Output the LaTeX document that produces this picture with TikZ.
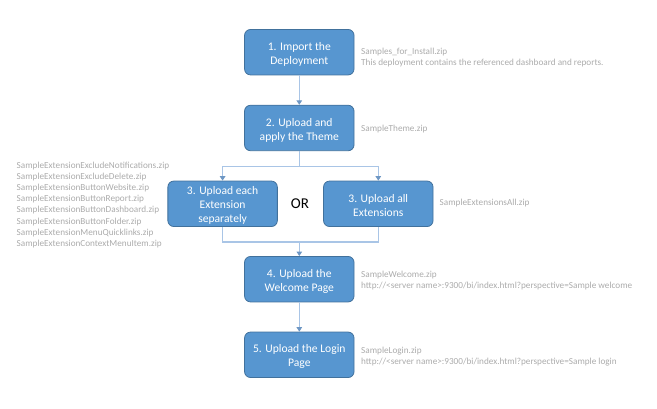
\documentclass[tikz,border=0pt]{standalone}
\usepackage{fontspec}
\setmainfont{Carlito}
\usetikzlibrary{arrows.meta}
\definecolor{boxfill}{HTML}{5796D0}
\definecolor{boxline}{HTML}{41719C}
\definecolor{conn}{HTML}{A9C5E6}
\definecolor{tip}{HTML}{6E97C4}
\definecolor{note}{HTML}{ABABAB}
\newcommand{\toplift}{\rule{0pt}{12pt}}
\tikzset{
  flowbox/.style={draw=boxline,line width=0.8pt,fill=boxfill,rounded corners=6pt,minimum width=109.5pt,minimum height=45.5pt,inner sep=0pt,align=center,text=white,font=\fontsize{11.6pt}{14.1pt}\selectfont},
  notetext/.style={anchor=west,inner sep=0pt,align=left,text=note,font=\fontsize{9.2pt}{11.05pt}\selectfont},
  link/.style={draw=conn,line width=1.2pt},
  linkarrow/.style={link,-{Triangle[length=4.5pt,width=5.5pt,color=tip]}}
}
\begin{document}
\begin{tikzpicture}[x=1pt,y=-1pt]
\useasboundingbox (0,0) rectangle (657,409);
\node[flowbox] (b1) at (299.3,52.2) {\toplift 1. Import the\\Deployment};
\node[flowbox] (b2) at (299.3,128) {\toplift 2. Upload and\\apply the Theme};
\node[flowbox] (b3a) at (222.6,203.8) {\toplift 3. Upload each\\Extension\\separately};
\node[flowbox] (b3b) at (378.3,203.8) {\toplift 3. Upload all\\Extensions};
\node[flowbox] (b4) at (299.3,279.2) {\toplift 4. Upload the\\Welcome Page};
\node[flowbox] (b5) at (299.3,354.8) {\toplift 5. Upload the Login\\Page};
\node[inner sep=0pt,font=\fontsize{15pt}{18pt}\selectfont] (or) at (300,203.5) {OR};
\coordinate (split) at (299.3,166.5);
\coordinate (merge) at (299.3,242);
\draw[linkarrow] (b1) -- (b2);
\draw[link] (b2) -- (split);
\draw[linkarrow] (split) -| (b3a);
\draw[linkarrow] (split) -| (b3b);
\draw[link] (b3a) |- (merge);
\draw[link] (b3b) |- (merge);
\draw[linkarrow] (merge) -- (b4);
\draw[linkarrow] (b4) -- (b5);
\node[notetext] (n1) at (361,57.3) {Samples\_for\_Install.zip\\This deployment contains the referenced dashboard and reports.};
\node[notetext] (n2) at (361,129.3) {SampleTheme.zip};
\node[notetext] (n3) at (439.5,202.8) {SampleExtensionsAll.zip};
\node[notetext] (n4) at (361,280.3) {SampleWelcome.zip\\http://<server name>:9300/bi/index.html?perspective=Sample welcome};
\node[notetext] (n5) at (361,356.3) {SampleLogin.zip\\http://<server name>:9300/bi/index.html?perspective=Sample login};
\node[notetext] (n6) at (16.5,205) {SampleExtensionExcludeNotifications.zip\\SampleExtensionExcludeDelete.zip\\SampleExtensionButtonWebsite.zip\\SampleExtensionButtonReport.zip\\SampleExtensionButtonDashboard.zip\\SampleExtensionButtonFolder.zip\\SampleExtensionMenuQuicklinks.zip\\SampleExtensionContextMenuItem.zip};
\end{tikzpicture}
\end{document}
